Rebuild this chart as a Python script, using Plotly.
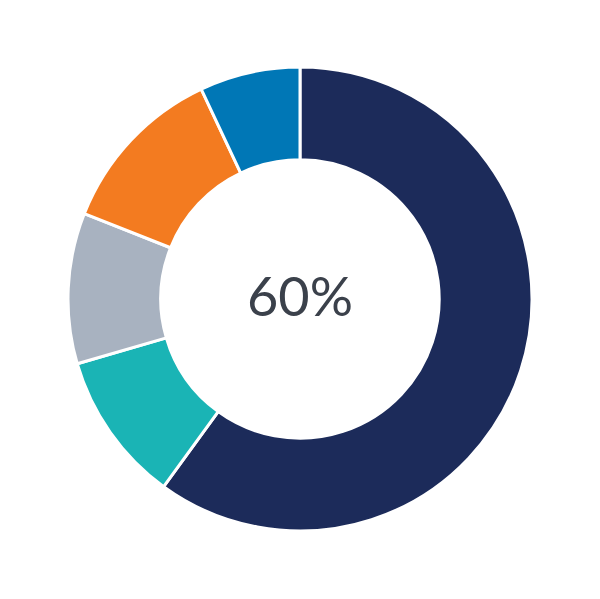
import plotly.graph_objects as go

# slices clockwise from 12 o'clock
labels = ['A', 'B', 'C', 'D', 'E']
values = [60, 10.5, 10.5, 12, 7]
colors = ['#1c2b5a', '#1ab4b5', '#a8b2c0', '#f37b20', '#0077b6']
center_text = '60%'

fig = go.Figure(data=[go.Pie(
    labels=labels,
    values=values,
    hole=0.6,
    sort=False,
    direction='clockwise',
    rotation=0,
    marker=dict(colors=colors, line=dict(color='white', width=3)),
    textinfo='none',
    hoverinfo='label+percent',
)])

# page body has an 8px margin, so shift the plot area up/left by 8px
fig.update_layout(
    width=600,
    height=599,
    showlegend=False,
    margin=dict(l=60, r=76, t=59, b=76),
    annotations=[dict(
        text=center_text,
        x=0.5, y=0.5,
        xref='paper', yref='paper',
        yshift=4,
        showarrow=False,
        font=dict(family='Lato', size=54, color='#3b414b'),
    )],
    plot_bgcolor='white',
    paper_bgcolor='white',
)

fig.write_html("out.html")
